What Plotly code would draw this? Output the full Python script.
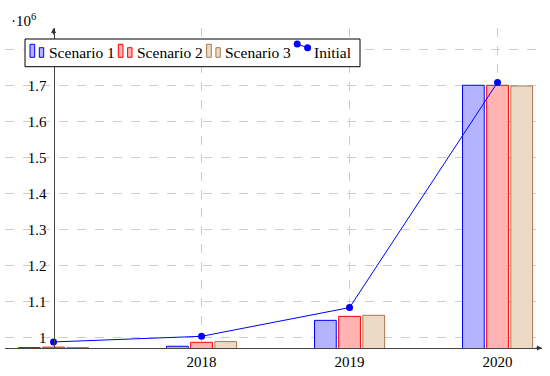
import plotly.graph_objects as go

years = [2017, 2018, 2019, 2020]
tick_years = [2018, 2019, 2020]
tick_year_labels = ["2018", "2019", "2020"]

series_names = ["Scenario 1", "Scenario 2", "Scenario 3"]
scenario_1 = [973000, 977000, 1049000, 1702000]
scenario_2 = [974500, 988000, 1060000, 1702000]
scenario_3 = [973500, 990000, 1063000, 1700000]
initial = [989000, 1004700, 1084400, 1710000]

y_ticks = [1.0e6, 1.1e6, 1.2e6, 1.3e6, 1.4e6, 1.5e6, 1.6e6, 1.7e6, 1.8e6]
y_tick_labels = ["1", "1.1", "1.2", "1.3", "1.4", "1.5", "1.6", "1.7", "1.8"]

edge_colors = ["#0000ff", "#ff0000", "#a87a50"]
fill_colors = ["#b3b3ff", "#ffb3b3", "#ecd9c6"]
LINE_COLOR = "#0000ff"
FONT = "Liberation Serif"

W, H = 550, 376
L, R, T, B = 5, 8, 28, 28
PW, PH = W - L - R, H - T - B

# 148 px per year, 36 px per 0.1e6
X_RANGE = [2016.672, 2016.672 + PW / 148]
Y_RANGE = [972200, 972200 + PH / 36 * 1e5]


def px(x):
    return (x - L) / PW


def py(y):
    return (H - B - y) / PH


fig = go.Figure()
for name, vals, ec, fc in zip(series_names, [scenario_1, scenario_2, scenario_3],
                              edge_colors, fill_colors):
    fig.add_trace(go.Bar(x=years, y=vals, name=name,
                         marker=dict(color=fc, line=dict(color=ec, width=1))))

fig.add_trace(go.Scatter(x=years, y=initial, name="Initial", mode="lines+markers",
                         line=dict(color=LINE_COLOR, width=1),
                         marker=dict(color=LINE_COLOR, size=7)))

# hand-drawn legend, pgfplots style
shapes = [dict(type="rect", xref="paper", yref="paper", x0=px(25), x1=px(360),
               y0=py(66.7), y1=py(39), line=dict(color="black", width=1),
               fillcolor="white", layer="above")]
annotations = []
names = series_names + ["Initial"]
for i, name in enumerate(names):
    s = 30 + 88.3 * i
    if i < 3:
        shapes.append(dict(type="rect", xref="paper", yref="paper",
                           x0=px(s), x1=px(s + 4.7), y0=py(57.3), y1=py(44.3),
                           line=dict(color=edge_colors[i], width=1),
                           fillcolor=fill_colors[i], layer="above"))
        shapes.append(dict(type="rect", xref="paper", yref="paper",
                           x0=px(s + 9.3), x1=px(s + 13.7), y0=py(57.3), y1=py(47.7),
                           line=dict(color=edge_colors[i], width=1),
                           fillcolor=fill_colors[i], layer="above"))
    else:
        shapes.append(dict(type="line", xref="paper", yref="paper",
                           x0=px(s + 2.3), x1=px(s + 12.7), y0=py(44), y1=py(47.7),
                           line=dict(color=LINE_COLOR, width=1), layer="above"))
        for cx, cy in [(s + 2.3, 44), (s + 12.7, 47.7)]:
            shapes.append(dict(type="circle", xref="paper", yref="paper",
                               x0=px(cx - 3.5), x1=px(cx + 3.5),
                               y0=py(cy + 3.5), y1=py(cy - 3.5),
                               line=dict(color=LINE_COLOR, width=0),
                               fillcolor=LINE_COLOR, layer="above"))
    annotations.append(dict(text=name, xref="paper", yref="paper", x=px(s + 16.7),
                            y=py(52.5), xanchor="left", yanchor="middle",
                            showarrow=False, font=dict(size=15.5, family=FONT, color="black")))

annotations.append(dict(text="·10<sup>6</sup>", xref="paper", yref="paper", x=px(9),
                        y=py(20), xanchor="left", yanchor="middle", showarrow=False,
                        font=dict(size=15, family=FONT, color="black")))

# axis arrows
annotations.append(dict(x=2017, y=Y_RANGE[1], xref="x", yref="y", text="", ax=0, ay=8,
                        showarrow=True, arrowhead=2, arrowsize=1, arrowwidth=1,
                        arrowcolor="#333333"))
annotations.append(dict(x=X_RANGE[1], y=Y_RANGE[0], xref="x", yref="y", text="", ax=-8,
                        ay=0, showarrow=True, arrowhead=2, arrowsize=1, arrowwidth=1,
                        arrowcolor="#333333"))

y_pos = (2017 - X_RANGE[0]) / (X_RANGE[1] - X_RANGE[0])

fig.update_layout(
    width=W, height=H,
    margin=dict(l=L, r=R, t=T, b=B, autoexpand=False),
    barmode="group", bargap=0.51, bargroupgap=0.1,
    showlegend=False,
    plot_bgcolor="white", paper_bgcolor="white",
    font=dict(family=FONT, size=15, color="black"),
    shapes=shapes, annotations=annotations,
    xaxis=dict(range=X_RANGE, tickvals=tick_years, ticktext=tick_year_labels,
               showgrid=True, gridcolor="#cccccc", griddash="dash", gridwidth=1,
               showline=True, linecolor="#444444", linewidth=1, zeroline=False,
               ticks="", ticklen=0, ticklabelstandoff=0, automargin=False),
    yaxis=dict(range=Y_RANGE, tickvals=y_ticks, ticktext=y_tick_labels,
               anchor="free", position=y_pos,
               showgrid=True, gridcolor="#cccccc", griddash="dash", gridwidth=1,
               showline=True, linecolor="#444444", linewidth=1, zeroline=False,
               ticks="", ticklen=0, ticklabelstandoff=4, automargin=False),
)

# the page body has a default 8px margin; drop it so the figure fills the window
fig.write_html("out.html", config={"displayModeBar": False},
               post_script="document.body.style.margin='0';")
